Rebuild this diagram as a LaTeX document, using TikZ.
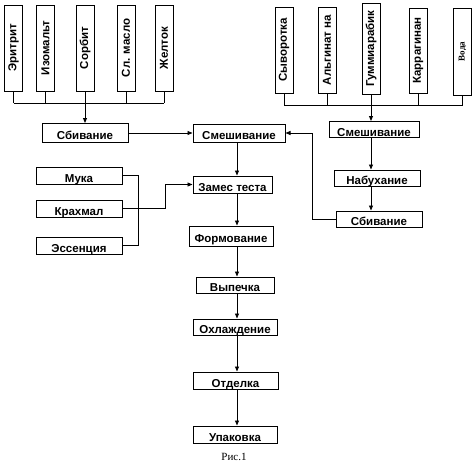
\documentclass[tikz,border=0pt]{standalone}
\usepackage{fontspec}
\setmainfont{Liberation Serif}
\setsansfont{Liberation Sans}
\usepackage{tikz}
\usetikzlibrary{arrows.meta}
\usetikzlibrary{calc}
\newcommand{\drawstep}[4]{
	\draw #1 node (#2) [stepbox,#3] {#4};
}

\begin{document}
\begin{tikzpicture}[x=1pt,y=1pt,
	stepbox/.style={draw,line width=1pt,inner sep=0pt,minimum height=17pt,text height=13.5pt,text depth=0pt,font=\sffamily\bfseries\fontsize{11.5}{13}\selectfont},
	upbox/.style={draw,line width=1pt,inner sep=0pt,minimum width=18pt,font=\sffamily\bfseries\fontsize{11.5}{13}\selectfont},
	link/.style={line width=0.9pt},
	arr/.style={line width=0.9pt,-{Triangle[length=5pt,width=4pt]}}]
\useasboundingbox (0,0) rectangle (474,-464);
\coordinate (lbus) at (0,-103);
\coordinate (rbus) at (0,-105);
\coordinate (ax) at (237,0);
\foreach \x/\n/\t in {13.5/eri/Эритрит,45.5/izo/Изомальт,85/sor/Сорбит,126/slm/Сл. масло,164/zhe/Желток} {
	\draw (\x,-48) node (\n) [upbox,minimum height=86pt] {\rotatebox{90}{\t}};
	\draw[link] (\n.south) -- (\n.south |- lbus);
}
\draw[link] (eri.south |- lbus) -- (zhe.south |- lbus);
\foreach \x/\y/\h/\n/\t in {284/50/86/syv/Сыворотка,327/50/86/alg/Альгинат на,371/48.5/91/gum/Гуммиарабик,418/50.5/85/kar/Каррагинан} {
	\draw (\x,-\y) node (\n) [upbox,minimum height=\h pt] {\rotatebox{90}{\t}};
	\draw[link] (\n.south) -- (\n.south |- rbus);
}
\draw (462.5,-51.5) node (vod) [upbox,minimum height=87pt,font=\rmfamily\bfseries\fontsize{9}{10}\selectfont] {\rotatebox{90}{Вода}};
\draw[link] (vod.south) -- (vod.south |- rbus);
\draw[link] (syv.south |- rbus) -- (vod.south |- rbus);
\drawstep{(85,-133)}{sbiv1}{minimum width=86pt,minimum height=19pt}{Сбивание}
\drawstep{(239,-133)}{smesh}{minimum width=92pt,minimum height=18pt}{Смешивание}
\drawstep{(374,-129.5)}{smesh2}{minimum width=90pt,minimum height=16pt}{Смешивание}
\drawstep{(377,-178)}{nabuh}{minimum width=86pt,minimum height=16pt}{Набухание}
\drawstep{(379,-219)}{sbiv2}{minimum width=86pt,minimum height=16pt}{Сбивание}
\drawstep{(79,-175.5)}{muka}{minimum width=86pt}{Мука}
\drawstep{(79,-208.5)}{krah}{minimum width=86pt}{Крахмал}
\drawstep{(79,-245.5)}{ess}{minimum width=86pt}{Эссенция}
\drawstep{(232.5,-184.5)}{zames}{minimum width=79pt}{Замес теста}
\drawstep{(231,-236)}{form}{minimum width=84pt,minimum height=20pt}{Формование}
\drawstep{(235,-285)}{vyp}{minimum width=78pt,minimum height=16pt}{Выпечка}
\drawstep{(235,-327)}{ohl}{minimum width=84pt,minimum height=16pt}{Охлаждение}
\drawstep{(235.5,-380.5)}{otd}{minimum width=85pt}{Отделка}
\drawstep{(235,-434.5)}{upak}{minimum width=84pt}{Упаковка}
\draw (234,-457) node (cap) [font=\fontsize{11}{13}\selectfont] {Рис.1};
\draw[arr] (sor.south |- lbus) -- (sbiv1.north);
\draw[arr] (sbiv1.east) -- (smesh.west);
\draw[arr] (gum.south |- rbus) -- (smesh2.north -| gum);
\draw[arr] (smesh2.south -| gum) -- (nabuh.north -| gum);
\draw[arr] (nabuh.south -| gum) -- (sbiv2.north -| gum);
\draw[arr] (sbiv2.west) -- ++(-23,0) |- (smesh.east);
\draw[link] (muka.east) -- ++(16,0) |- (ess.east);
\draw[arr] (krah.east) -- ++(43,0) |- (zames.west);
\foreach \a/\b in {smesh/zames,zames/form,form/vyp,vyp/ohl,ohl/otd,otd/upak} {
	\draw[arr] (\a.south -| ax) -- (\b.north -| ax);
}
\end{tikzpicture}
\end{document}
